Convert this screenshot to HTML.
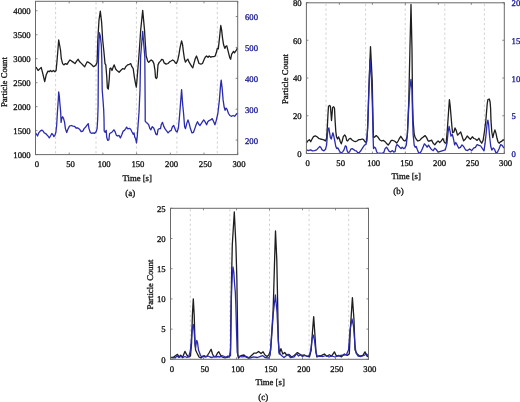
<!DOCTYPE html>
<html><head><meta charset="utf-8"><title>Particle Count plots</title>
<style>
html,body{margin:0;padding:0;background:#fff;}
body{width:520px;height:402px;overflow:hidden;}
svg{display:block;filter:blur(0.3px);font-family:"Liberation Serif","Times New Roman",serif;}
text{stroke-width:0.3px;paint-order:stroke;text-rendering:geometricPrecision;}
</style></head><body>
<svg width="520" height="402" viewBox="0 0 520 402">
<rect width="520" height="402" fill="#fff"/>
<line x1="55.6" y1="2.3" x2="55.6" y2="154.6" stroke="#c4c4c4" stroke-width="0.8" stroke-dasharray="2.2 2.6"/>
<line x1="96" y1="2.3" x2="96" y2="154.6" stroke="#c4c4c4" stroke-width="0.8" stroke-dasharray="2.2 2.6"/>
<line x1="136.4" y1="2.3" x2="136.4" y2="154.6" stroke="#c4c4c4" stroke-width="0.8" stroke-dasharray="2.2 2.6"/>
<line x1="176.9" y1="2.3" x2="176.9" y2="154.6" stroke="#c4c4c4" stroke-width="0.8" stroke-dasharray="2.2 2.6"/>
<line x1="217.3" y1="2.3" x2="217.3" y2="154.6" stroke="#c4c4c4" stroke-width="0.8" stroke-dasharray="2.2 2.6"/>
<polyline points="35.5,67.5 36.2,67.4 38.1,70.5 40,68.6 41.2,67.4 42.5,72.3 43.7,77.3 44.7,81.6 46.2,74.8 48,71.1 49.3,71.7 50.5,70.5 51.8,71.7 53.4,70.5 54.9,71.7 56.1,70.5 57.1,59.9 58,48.7 58.7,40 59.6,45 60.5,50 61.3,58.7 62.6,63.6 63.8,64.9 65.4,63.6 67,64.3 68.5,61.8 70,59.9 71.6,61.1 73.5,62.4 75,63.6 76.6,61.1 78.2,59.3 79.7,61.8 81.6,63.6 83.4,65.5 84.7,66.7 85.9,64.3 87.2,61.8 88.7,62.4 90.3,63.6 91.9,64.9 93.4,66.7 94.6,66.1 95.9,64.9 97.1,62.4 97.8,40 99,20 100.3,11.2 101.6,22 102.7,40 104,52.5 105,63.6 105.8,64.9 106.7,76 107.4,87.9 108.3,89.1 109.2,79.8 109.9,68.6 110.8,68 112,70.5 113.3,66.7 114.2,64.9 115.8,69.2 117.6,71.1 119.1,72.3 120.7,70.5 122.6,68.6 124.5,69.2 125.7,66.7 127.6,64.9 129.4,64.3 130.7,63.6 131.9,66.7 133.2,68.6 134.4,77.3 135.3,82.3 136.3,87.2 136.9,81 137.8,69.8 138.8,57.4 139.7,44.8 140.7,29.9 142.7,10.4 144.5,29.9 145.4,44.8 146.2,56 147.7,61.1 148.7,62.4 149.9,61.1 151.2,59.9 152.7,61.1 153.9,63.6 154.9,69.8 155.5,77.3 156.4,78.5 157.1,77.3 158,64.9 159.2,62.4 160.5,61.1 161.7,59.3 163,59.8 164.2,62.9 166.1,64.1 168,63.5 169.8,61.6 171.1,61 172.7,60 174.2,61 175.4,62.9 176.4,63.5 177.7,60.4 178.9,54.8 180.1,47.3 181.6,40.9 182.6,44.8 183.5,52.3 184.4,58.5 185.4,62.2 186.6,60.4 187.8,59.1 189.1,62.2 190.3,64.1 191.8,66.6 192.8,67.8 194.1,62.9 195.3,58.5 196.5,56 197.8,59.8 199,63.5 200.9,64.1 202.5,63.5 204,59.8 205.2,57.3 206.5,56 208,57.3 209.2,56 210.8,57.3 212.1,56.6 213.9,56.6 215.2,56 216.4,52.3 217.3,48.4 218.3,48.9 219.3,39.9 220.3,30 220.8,25.5 221.6,29.9 222.6,38.6 223.6,44.8 224.8,48.4 225.8,46.4 226.8,45.9 227.8,49.9 228.8,53.9 229.8,57.8 230.6,59.3 231.6,54.4 232.5,52.9 233.5,51.4 234.5,52.9 235.5,51.4 236.5,49.9 237.6,47.9" fill="none" stroke="#1e1e1e" stroke-width="1.3" stroke-linejoin="round"/>
<polyline points="35.5,133 36,133.5 37.5,136 38.7,132.9 40.2,131.1 41.8,130.1 43.1,131.1 44.3,132.9 45.6,133.5 46.8,134.8 48,136 49.3,137.9 50.5,136 51.8,133.5 53,134.8 53.9,136.6 54.9,135.4 55.9,132.3 56.7,124.8 57.4,112.4 58.4,98 58.7,92 59.3,96 59.8,102.5 60.7,112.4 61.1,122.4 61.7,118.6 62.6,116.8 63.6,118.6 64.6,122.4 65.4,128.6 66.7,132.5 67.9,129.2 69.5,126.1 71.3,125.5 72.9,126.1 74.5,126.3 76,128 77.9,128 79.5,129.2 81.2,131.7 82.8,131.1 84.1,128.6 85.9,126.7 87.2,124.8 88.2,123.6 89,128.6 90.3,132.5 91.5,133.3 93.1,132.9 94.6,133.3 96.1,131.7 97.1,128.6 97.7,118.6 98.1,106.2 98.4,60 99.3,32.6 100.3,36 101.3,45 101.8,60 102.2,90 103,100 103.7,110 104,118.6 104.2,131.1 105.2,132.3 106.2,130.4 106.7,137.3 107.7,140.4 108.9,139.8 109.6,133.5 110.8,132.9 112.4,131.7 113.9,129.8 115.1,131.7 116.4,135.4 117.6,136 118.9,135.4 120.4,137.9 122,134.2 123.2,131.1 124.5,130.4 125.7,128.6 126.6,127.1 127.8,128.8 129.4,128.3 130.7,129.2 131.9,131.7 133.2,134.2 134,132.9 134.8,137.3 135.6,138.5 136.5,142.9 137.3,136 138.1,124.8 139,112.4 140,90 140.6,56.7 142.7,31.3 144.8,56.7 145.2,110 145.2,121.1 146.2,122.4 147.7,123.6 148.7,124.8 149.9,128.6 150.9,129.8 152.2,126.7 153.7,128 154.9,131.1 155.9,134.2 157.1,134.8 158,129.8 159.2,128.6 160.5,128.6 161.2,124.8 162.5,122.4 163.7,126.1 165.2,129.2 166.8,131.1 168.1,132.9 169.7,131.1 171.2,130.4 172.4,126.7 173.7,125.5 174.9,128.6 175.9,131.1 177.1,132 178.4,128 179.3,118.6 180.1,108.7 181.1,96 181.6,89.6 182.6,103.7 183.6,113.7 184.6,126.7 185.5,128.6 186.7,123.6 188,119.9 189.2,123.6 190.4,128.6 192,132.9 193.5,132.3 194.8,128.6 196.3,124.2 197.5,121.7 198.8,124.2 200,125.5 201.2,123.6 202.5,121.7 203.7,119.9 205,121.7 206.6,124.8 207.8,121.7 209.1,120.5 210.7,119.9 212.2,118.6 213.7,121.7 214.9,124.8 216.1,121.1 217.4,115.5 217.9,113.3 219.4,99.9 220.6,84.9 221.2,80.1 222.1,87.9 223.1,99.9 224.2,107.3 225.1,110.3 226.1,108.1 227.2,109.6 228.4,113.3 229.9,115.5 231.6,116.3 233.1,115.5 234.6,116.3 235.8,114.8 237.6,113" fill="none" stroke="#2a2aae" stroke-width="1.3" stroke-linejoin="round"/>
<rect x="35.5" y="1.3" width="202.2" height="153.3" fill="none" stroke="#6a6a6a" stroke-width="1"/>
<line x1="35.5" y1="154.6" x2="35.5" y2="152.6" stroke="#6a6a6a" stroke-width="0.8"/>
<line x1="35.5" y1="1.3" x2="35.5" y2="3.3" stroke="#6a6a6a" stroke-width="0.8"/>
<text x="36.8" y="167.3" text-anchor="middle" font-size="8.7" fill="#111" stroke="#111">0</text>
<line x1="69.2" y1="154.6" x2="69.2" y2="152.6" stroke="#6a6a6a" stroke-width="0.8"/>
<line x1="69.2" y1="1.3" x2="69.2" y2="3.3" stroke="#6a6a6a" stroke-width="0.8"/>
<text x="70.5" y="167.3" text-anchor="middle" font-size="8.7" fill="#111" stroke="#111">50</text>
<line x1="102.9" y1="154.6" x2="102.9" y2="152.6" stroke="#6a6a6a" stroke-width="0.8"/>
<line x1="102.9" y1="1.3" x2="102.9" y2="3.3" stroke="#6a6a6a" stroke-width="0.8"/>
<text x="104.2" y="167.3" text-anchor="middle" font-size="8.7" fill="#111" stroke="#111">100</text>
<line x1="136.6" y1="154.6" x2="136.6" y2="152.6" stroke="#6a6a6a" stroke-width="0.8"/>
<line x1="136.6" y1="1.3" x2="136.6" y2="3.3" stroke="#6a6a6a" stroke-width="0.8"/>
<text x="137.9" y="167.3" text-anchor="middle" font-size="8.7" fill="#111" stroke="#111">150</text>
<line x1="170.3" y1="154.6" x2="170.3" y2="152.6" stroke="#6a6a6a" stroke-width="0.8"/>
<line x1="170.3" y1="1.3" x2="170.3" y2="3.3" stroke="#6a6a6a" stroke-width="0.8"/>
<text x="171.6" y="167.3" text-anchor="middle" font-size="8.7" fill="#111" stroke="#111">200</text>
<line x1="204" y1="154.6" x2="204" y2="152.6" stroke="#6a6a6a" stroke-width="0.8"/>
<line x1="204" y1="1.3" x2="204" y2="3.3" stroke="#6a6a6a" stroke-width="0.8"/>
<text x="205.3" y="167.3" text-anchor="middle" font-size="8.7" fill="#111" stroke="#111">250</text>
<line x1="237.7" y1="154.6" x2="237.7" y2="152.6" stroke="#6a6a6a" stroke-width="0.8"/>
<line x1="237.7" y1="1.3" x2="237.7" y2="3.3" stroke="#6a6a6a" stroke-width="0.8"/>
<text x="239" y="167.3" text-anchor="middle" font-size="8.7" fill="#111" stroke="#111">300</text>
<line x1="35.5" y1="154.6" x2="37.5" y2="154.6" stroke="#6a6a6a" stroke-width="0.8"/>
<text x="30.7" y="157.9" text-anchor="end" font-size="8.7" fill="#111" stroke="#111">1000</text>
<line x1="35.5" y1="130.63" x2="37.5" y2="130.63" stroke="#6a6a6a" stroke-width="0.8"/>
<text x="30.7" y="133.93" text-anchor="end" font-size="8.7" fill="#111" stroke="#111">1500</text>
<line x1="35.5" y1="106.66" x2="37.5" y2="106.66" stroke="#6a6a6a" stroke-width="0.8"/>
<text x="30.7" y="109.96" text-anchor="end" font-size="8.7" fill="#111" stroke="#111">2000</text>
<line x1="35.5" y1="82.69" x2="37.5" y2="82.69" stroke="#6a6a6a" stroke-width="0.8"/>
<text x="30.7" y="85.99" text-anchor="end" font-size="8.7" fill="#111" stroke="#111">2500</text>
<line x1="35.5" y1="58.72" x2="37.5" y2="58.72" stroke="#6a6a6a" stroke-width="0.8"/>
<text x="30.7" y="62.02" text-anchor="end" font-size="8.7" fill="#111" stroke="#111">3000</text>
<line x1="35.5" y1="34.75" x2="37.5" y2="34.75" stroke="#6a6a6a" stroke-width="0.8"/>
<text x="30.7" y="38.05" text-anchor="end" font-size="8.7" fill="#111" stroke="#111">3500</text>
<line x1="35.5" y1="10.78" x2="37.5" y2="10.78" stroke="#6a6a6a" stroke-width="0.8"/>
<text x="30.7" y="14.08" text-anchor="end" font-size="8.7" fill="#111" stroke="#111">4000</text>
<line x1="237.7" y1="140.1" x2="235.7" y2="140.1" stroke="#6a6a6a" stroke-width="0.8"/>
<text x="245" y="143.8" text-anchor="start" font-size="8.7" fill="#181890" stroke="#181890">200</text>
<line x1="237.7" y1="109.2" x2="235.7" y2="109.2" stroke="#6a6a6a" stroke-width="0.8"/>
<text x="245" y="112.9" text-anchor="start" font-size="8.7" fill="#181890" stroke="#181890">300</text>
<line x1="237.7" y1="78.3" x2="235.7" y2="78.3" stroke="#6a6a6a" stroke-width="0.8"/>
<text x="245" y="82" text-anchor="start" font-size="8.7" fill="#181890" stroke="#181890">400</text>
<line x1="237.7" y1="47.4" x2="235.7" y2="47.4" stroke="#6a6a6a" stroke-width="0.8"/>
<text x="245" y="51.1" text-anchor="start" font-size="8.7" fill="#181890" stroke="#181890">500</text>
<line x1="237.7" y1="16.5" x2="235.7" y2="16.5" stroke="#6a6a6a" stroke-width="0.8"/>
<text x="245" y="20.2" text-anchor="start" font-size="8.7" fill="#181890" stroke="#181890">600</text>
<text x="137.2" y="180.5" text-anchor="middle" font-size="8.7" fill="#111" stroke="#111">Time [s]</text>
<text x="130.2" y="196.2" text-anchor="middle" font-size="9" fill="#111" stroke="#111">(a)</text>
<text x="0" y="0" text-anchor="middle" font-size="8.7" fill="#111" stroke="#111" transform="translate(7 82.1) rotate(-90)">Particle Count</text>
<line x1="326" y1="3.8" x2="326" y2="153.5" stroke="#c4c4c4" stroke-width="0.8" stroke-dasharray="2.2 2.6"/>
<line x1="365.6" y1="3.8" x2="365.6" y2="153.5" stroke="#c4c4c4" stroke-width="0.8" stroke-dasharray="2.2 2.6"/>
<line x1="405.2" y1="3.8" x2="405.2" y2="153.5" stroke="#c4c4c4" stroke-width="0.8" stroke-dasharray="2.2 2.6"/>
<line x1="444.8" y1="3.8" x2="444.8" y2="153.5" stroke="#c4c4c4" stroke-width="0.8" stroke-dasharray="2.2 2.6"/>
<line x1="484.4" y1="3.8" x2="484.4" y2="153.5" stroke="#c4c4c4" stroke-width="0.8" stroke-dasharray="2.2 2.6"/>
<polyline points="306.4,143.1 307.7,141 309.4,139.7 310.7,141.7 312.1,139 313.5,136.7 315.3,135.8 317,136.7 318.7,138.3 320.3,139 322.1,139.4 323.9,139.9 325.5,141 326.6,138.3 327.3,127.4 328,113.7 328.5,106.2 329.6,105.5 330.4,106.2 331,113.7 331.5,120.5 332.1,113.7 332.6,107.5 333.7,106.8 334.5,108.2 335.1,120.5 335.8,131.5 336.5,136.9 337.6,139 338.5,136.9 339.5,139 340.3,141.7 341.3,143.8 342.2,141 343.3,136.7 344.7,134.9 345.8,136.7 346.7,140.4 347.7,141 349,139 350.4,138.3 351.8,139.7 353.6,141 355.3,141.7 357,141 358.6,139.7 360.4,139.7 362.2,139 363.6,139.7 364.9,141.7 366.3,142.4 367.2,135.6 367.9,120.5 368.8,90 370.5,46.6 372.2,80 373,120 373.5,137.6 374.8,136.9 376.2,135.6 377.8,136.9 379.6,139.7 381.7,141 383.3,140.4 385.1,141.7 386.9,143.8 388.2,145.1 389.6,143.1 391.3,140.4 392.6,140.4 394.3,141 395.4,141.7 396.7,143.1 398.1,141 399.5,138.3 400.8,136.3 402.2,138.3 403.6,140.4 404.9,141 406.3,139.7 407.3,135.6 408,120.5 408.8,100 409.9,50 411,4.4 412,50 412.5,100 413.1,120.5 414.2,134.2 415.2,137.6 416.6,139.7 417.9,141 419.7,140.4 421.6,138.3 423.4,136.9 425.2,135.6 426.6,137.6 428.2,141 429.8,141 431.6,140.1 433.2,143.3 434.8,144.9 436.5,142.5 438.1,140.9 439.7,142.5 441.3,140.9 442.9,138.5 444.5,142.5 446.2,143.3 447.4,128.8 448.6,111 449.4,99.7 450.2,106.2 451,115.8 451.8,125.5 452.6,132.8 453.9,132 455,128 456.2,130.4 457.5,135.2 459.1,133.6 460.7,132 462,136 463.6,140.9 465.2,139.3 467.2,136 468.8,137.7 470.4,139.3 472.3,136.8 473.9,138.5 475.4,139 477.1,140.4 478.9,138.3 480.3,141.1 481.7,143.2 483.1,140.4 484.4,132 485.8,120.9 487.2,104 487.9,99.5 489.3,99 490.1,102 490.6,108.4 491,120.9 491.8,132 492.8,137.6 493.8,133.4 494.9,129.9 496,133.4 497,138.3 498,141.8 499.1,143.2 500.5,141.8 501.9,141.1 503.2,139.7 504.3,140.4" fill="none" stroke="#1e1e1e" stroke-width="1.3" stroke-linejoin="round"/>
<polyline points="306.4,149.9 308.4,150.6 310.5,149.9 312.5,150.9 314.6,150.6 316.6,149.9 318.4,147.9 319.8,146.5 320.7,147.2 322.1,149.9 323.9,150.9 325.5,149.2 326.6,145.1 327.3,135.6 328,128.7 328.9,128 329.6,132.8 330.4,137.6 331.3,139 332.1,135.6 332.9,132.8 333.7,135.6 334.8,141 335.8,146.5 336.7,148.6 337.8,147.9 338.9,149.9 339.9,151.7 341.3,152.7 342.6,152 344,149.9 345.4,145.8 346.3,146.5 347.1,150.6 348.1,152.7 349.5,152 350.8,149.2 352.2,148.6 353.6,149.5 354.9,150.6 356.3,150.9 357.7,152.7 359,152.7 360.4,151.3 361.8,149.2 363.1,147.2 364.5,145.1 365.9,144.5 366.8,141 367.7,127.4 368.6,100 370,59.4 371.5,80 372.5,110 373.2,140 373.5,148.6 374.6,147.2 375.5,147.9 376.5,151.3 377.6,153.4 379.6,153.1 381.7,153.4 383.7,152.7 385.1,148.6 386.5,147.2 387.8,149.2 389.2,151.3 390.6,152 392.4,150.6 393.7,152 395.1,151.7 396,146.5 397,144.5 398.4,145.8 399.7,147.2 401.1,148.6 402.2,147.2 403.6,148.6 404.9,147.9 406.3,145.1 407.4,134.2 408.4,113.7 409.7,90 411,79.4 412,90 412.5,113.7 413.1,134.2 414.2,145.1 415.2,147.2 416.2,146.5 417.2,149.2 418.6,152.7 420,153.1 421.6,150.6 423,147.2 424.4,143.8 425.7,145.1 427.1,147.2 428.5,145.1 429.8,147.2 431.2,149.2 432.2,150 433.2,150.6 434.8,148.2 436.5,149.8 438.1,152.2 440.5,151.4 442.9,150.6 445.3,149.8 447,143.3 448.1,132 449.1,126.3 450.2,132 451,136 452.3,134.4 453.4,138.5 454.6,144.9 455.8,142.5 457.1,144.9 458.8,148.2 460.4,147.4 462,144.9 463.6,146.5 465.5,149.8 467.5,150.6 469.6,149 471.7,150.6 473.6,148.2 475.4,147.4 477.1,144.6 478.9,145.3 480.7,146 482.4,148.7 484,150.8 485.1,143.2 486.3,132 487.2,122.3 487.9,120.2 488.6,124.4 489.6,136.2 490.7,146 491.8,150.1 493.2,148 494.6,149.4 496,152.9 497.4,152.2 499.1,148.7 500.7,144.6 502.1,145.3 503.5,147.4 504.3,148" fill="none" stroke="#2a2aae" stroke-width="1.3" stroke-linejoin="round"/>
<rect x="306.4" y="2.8" width="197.9" height="150.7" fill="none" stroke="#6a6a6a" stroke-width="1"/>
<line x1="306.4" y1="153.5" x2="306.4" y2="151.5" stroke="#6a6a6a" stroke-width="0.8"/>
<line x1="306.4" y1="2.8" x2="306.4" y2="4.8" stroke="#6a6a6a" stroke-width="0.8"/>
<text x="307.7" y="165.9" text-anchor="middle" font-size="8.7" fill="#111" stroke="#111">0</text>
<line x1="339.38" y1="153.5" x2="339.38" y2="151.5" stroke="#6a6a6a" stroke-width="0.8"/>
<line x1="339.38" y1="2.8" x2="339.38" y2="4.8" stroke="#6a6a6a" stroke-width="0.8"/>
<text x="340.68" y="165.9" text-anchor="middle" font-size="8.7" fill="#111" stroke="#111">50</text>
<line x1="372.37" y1="153.5" x2="372.37" y2="151.5" stroke="#6a6a6a" stroke-width="0.8"/>
<line x1="372.37" y1="2.8" x2="372.37" y2="4.8" stroke="#6a6a6a" stroke-width="0.8"/>
<text x="373.67" y="165.9" text-anchor="middle" font-size="8.7" fill="#111" stroke="#111">100</text>
<line x1="405.35" y1="153.5" x2="405.35" y2="151.5" stroke="#6a6a6a" stroke-width="0.8"/>
<line x1="405.35" y1="2.8" x2="405.35" y2="4.8" stroke="#6a6a6a" stroke-width="0.8"/>
<text x="406.65" y="165.9" text-anchor="middle" font-size="8.7" fill="#111" stroke="#111">150</text>
<line x1="438.33" y1="153.5" x2="438.33" y2="151.5" stroke="#6a6a6a" stroke-width="0.8"/>
<line x1="438.33" y1="2.8" x2="438.33" y2="4.8" stroke="#6a6a6a" stroke-width="0.8"/>
<text x="439.63" y="165.9" text-anchor="middle" font-size="8.7" fill="#111" stroke="#111">200</text>
<line x1="471.32" y1="153.5" x2="471.32" y2="151.5" stroke="#6a6a6a" stroke-width="0.8"/>
<line x1="471.32" y1="2.8" x2="471.32" y2="4.8" stroke="#6a6a6a" stroke-width="0.8"/>
<text x="472.62" y="165.9" text-anchor="middle" font-size="8.7" fill="#111" stroke="#111">250</text>
<line x1="504.3" y1="153.5" x2="504.3" y2="151.5" stroke="#6a6a6a" stroke-width="0.8"/>
<line x1="504.3" y1="2.8" x2="504.3" y2="4.8" stroke="#6a6a6a" stroke-width="0.8"/>
<text x="505.6" y="165.9" text-anchor="middle" font-size="8.7" fill="#111" stroke="#111">300</text>
<line x1="306.4" y1="153.5" x2="308.4" y2="153.5" stroke="#6a6a6a" stroke-width="0.8"/>
<text x="301.6" y="156.8" text-anchor="end" font-size="8.7" fill="#111" stroke="#111">0</text>
<line x1="306.4" y1="115.75" x2="308.4" y2="115.75" stroke="#6a6a6a" stroke-width="0.8"/>
<text x="301.6" y="119.05" text-anchor="end" font-size="8.7" fill="#111" stroke="#111">20</text>
<line x1="306.4" y1="78" x2="308.4" y2="78" stroke="#6a6a6a" stroke-width="0.8"/>
<text x="301.6" y="81.3" text-anchor="end" font-size="8.7" fill="#111" stroke="#111">40</text>
<line x1="306.4" y1="40.25" x2="308.4" y2="40.25" stroke="#6a6a6a" stroke-width="0.8"/>
<text x="301.6" y="43.55" text-anchor="end" font-size="8.7" fill="#111" stroke="#111">60</text>
<line x1="306.4" y1="2.5" x2="308.4" y2="2.5" stroke="#6a6a6a" stroke-width="0.8"/>
<text x="301.6" y="5.8" text-anchor="end" font-size="8.7" fill="#111" stroke="#111">80</text>
<line x1="504.3" y1="153.5" x2="502.3" y2="153.5" stroke="#6a6a6a" stroke-width="0.8"/>
<text x="511.6" y="157.2" text-anchor="start" font-size="8.7" fill="#181890" stroke="#181890">0</text>
<line x1="504.3" y1="115.75" x2="502.3" y2="115.75" stroke="#6a6a6a" stroke-width="0.8"/>
<text x="511.6" y="119.45" text-anchor="start" font-size="8.7" fill="#181890" stroke="#181890">5</text>
<line x1="504.3" y1="78" x2="502.3" y2="78" stroke="#6a6a6a" stroke-width="0.8"/>
<text x="511.6" y="81.7" text-anchor="start" font-size="8.7" fill="#181890" stroke="#181890">10</text>
<line x1="504.3" y1="40.25" x2="502.3" y2="40.25" stroke="#6a6a6a" stroke-width="0.8"/>
<text x="511.6" y="43.95" text-anchor="start" font-size="8.7" fill="#181890" stroke="#181890">15</text>
<line x1="504.3" y1="2.5" x2="502.3" y2="2.5" stroke="#6a6a6a" stroke-width="0.8"/>
<text x="511.6" y="6.2" text-anchor="start" font-size="8.7" fill="#181890" stroke="#181890">20</text>
<text x="406.2" y="178.7" text-anchor="middle" font-size="8.7" fill="#111" stroke="#111">Time [s]</text>
<text x="398.6" y="194.4" text-anchor="middle" font-size="9" fill="#111" stroke="#111">(b)</text>
<text x="0" y="0" text-anchor="middle" font-size="8.7" fill="#111" stroke="#111" transform="translate(288.2 79) rotate(-90)">Particle Count</text>
<line x1="190.3" y1="209.3" x2="190.3" y2="359.3" stroke="#c4c4c4" stroke-width="0.8" stroke-dasharray="2.2 2.6"/>
<line x1="229.9" y1="209.3" x2="229.9" y2="359.3" stroke="#c4c4c4" stroke-width="0.8" stroke-dasharray="2.2 2.6"/>
<line x1="269.5" y1="209.3" x2="269.5" y2="359.3" stroke="#c4c4c4" stroke-width="0.8" stroke-dasharray="2.2 2.6"/>
<line x1="309.1" y1="209.3" x2="309.1" y2="359.3" stroke="#c4c4c4" stroke-width="0.8" stroke-dasharray="2.2 2.6"/>
<line x1="348.7" y1="209.3" x2="348.7" y2="359.3" stroke="#c4c4c4" stroke-width="0.8" stroke-dasharray="2.2 2.6"/>
<polyline points="170.5,357 173,358 175,356 177.5,354.4 179,357 180.7,355.2 182.5,357.5 184.9,351.4 187,355.2 189,357 190.5,356 191.6,343 192.4,315 193.3,298.8 194.2,315 195,343 195.6,350 197,353 199,357 201,358 203,356 205,357 207,356 209,353 211.1,349.3 212.5,354 214,357 216,356 217.5,353 218.8,351.8 220.5,355 222,357 225,358 228,356 229.5,357 230.5,350 231.5,280.5 232.3,244.8 234.3,212 235.9,244.8 236.9,280.5 237.9,355.5 238.5,358 240.9,355.6 244,355 246,357 248.5,358.2 251,356 254.2,353.1 256.5,353 258.6,351.4 261,353.5 263.1,351.8 265,355 267,356.5 268.8,355 270.7,350 272.8,320 273.6,295 274.6,260 275.5,231 276.8,260 277.5,295 278.3,340 279.3,354 280.9,348.6 282.8,354 284.7,352.5 286.6,355 289,354.5 291.6,357 294.2,355.5 296.7,353.1 297.4,352.6 299.5,354 301.7,355.4 304.5,355 306.7,356.2 309.5,356.9 311.2,350 312.6,330 313.7,316.6 314.8,333 316,352 316.8,356.9 318.8,356 321.6,355.4 324.4,354 326.6,356.2 329.4,354.7 331.6,356.2 334.4,351.9 336.5,356.2 338.7,355.4 341.5,356.9 344.4,354 347.2,355.4 349.3,354 350.3,330 352.4,297.6 354,320 355,350 357.2,354 360,356.2 362.9,355.4 365,351.9 367.1,356.2 368.5,357" fill="none" stroke="#1e1e1e" stroke-width="1.3" stroke-linejoin="round"/>
<polyline points="170.5,358 173,357 175,358 177,356 179,357.5 181,356.5 183,357.5 185,356.5 187,357.5 189,356 190.5,350 191.7,335 192.6,326 193.3,324.5 194.2,332 195,344 195.6,348 196.2,343 196.8,340.5 197.6,343 198.5,350 200,354 200.4,355.6 202,357 204.3,355.6 206,357 208,356 210,357 212,357.5 214,356.5 216,357 218,356.5 220,357 222,355.6 224.5,356.5 226.5,357.5 228.5,357 230.5,355.5 231.3,300 231.8,285 232.5,272 233,267 233.8,272 234.5,283 235.3,292 235.8,304 236.5,330 237.2,352 237.9,355.5 239.6,356.3 242.2,356.9 246,356.3 249.8,358.2 253.6,356.9 257.4,357.5 260.6,356.3 262.5,355.6 265,357.5 268.8,358.2 270.2,355 272.5,320 275.4,295 277,312 278.3,340 279,352.5 281.5,355.6 284,357.5 287.8,354.4 290.4,357.5 294.2,356.9 296.7,353.7 298.5,356 300.5,355 302.5,356.5 305,355.5 307.5,356.5 309.5,355 310.8,350 312.2,338 313.3,335.2 314.5,340 315.9,352 317.2,356.5 320,356 323,356.5 326,355.5 329,357 332,356 335,357 338,356 341,355.5 344,355 346.5,354.5 348.5,350 350,330 352,319 353.5,326 355,345 356,353 358,356 361,356.5 364,355.5 366.5,354 368.5,356" fill="none" stroke="#2a2aae" stroke-width="1.3" stroke-linejoin="round"/>
<rect x="170.5" y="208.3" width="198" height="151" fill="none" stroke="#6a6a6a" stroke-width="1"/>
<line x1="170.5" y1="359.3" x2="170.5" y2="357.3" stroke="#6a6a6a" stroke-width="0.8"/>
<line x1="170.5" y1="208.3" x2="170.5" y2="210.3" stroke="#6a6a6a" stroke-width="0.8"/>
<text x="171.8" y="371.6" text-anchor="middle" font-size="8.7" fill="#111" stroke="#111">0</text>
<line x1="203.5" y1="359.3" x2="203.5" y2="357.3" stroke="#6a6a6a" stroke-width="0.8"/>
<line x1="203.5" y1="208.3" x2="203.5" y2="210.3" stroke="#6a6a6a" stroke-width="0.8"/>
<text x="204.8" y="371.6" text-anchor="middle" font-size="8.7" fill="#111" stroke="#111">50</text>
<line x1="236.5" y1="359.3" x2="236.5" y2="357.3" stroke="#6a6a6a" stroke-width="0.8"/>
<line x1="236.5" y1="208.3" x2="236.5" y2="210.3" stroke="#6a6a6a" stroke-width="0.8"/>
<text x="237.8" y="371.6" text-anchor="middle" font-size="8.7" fill="#111" stroke="#111">100</text>
<line x1="269.5" y1="359.3" x2="269.5" y2="357.3" stroke="#6a6a6a" stroke-width="0.8"/>
<line x1="269.5" y1="208.3" x2="269.5" y2="210.3" stroke="#6a6a6a" stroke-width="0.8"/>
<text x="270.8" y="371.6" text-anchor="middle" font-size="8.7" fill="#111" stroke="#111">150</text>
<line x1="302.5" y1="359.3" x2="302.5" y2="357.3" stroke="#6a6a6a" stroke-width="0.8"/>
<line x1="302.5" y1="208.3" x2="302.5" y2="210.3" stroke="#6a6a6a" stroke-width="0.8"/>
<text x="303.8" y="371.6" text-anchor="middle" font-size="8.7" fill="#111" stroke="#111">200</text>
<line x1="335.5" y1="359.3" x2="335.5" y2="357.3" stroke="#6a6a6a" stroke-width="0.8"/>
<line x1="335.5" y1="208.3" x2="335.5" y2="210.3" stroke="#6a6a6a" stroke-width="0.8"/>
<text x="336.8" y="371.6" text-anchor="middle" font-size="8.7" fill="#111" stroke="#111">250</text>
<line x1="368.5" y1="359.3" x2="368.5" y2="357.3" stroke="#6a6a6a" stroke-width="0.8"/>
<line x1="368.5" y1="208.3" x2="368.5" y2="210.3" stroke="#6a6a6a" stroke-width="0.8"/>
<text x="369.8" y="371.6" text-anchor="middle" font-size="8.7" fill="#111" stroke="#111">300</text>
<line x1="170.5" y1="359.3" x2="172.5" y2="359.3" stroke="#6a6a6a" stroke-width="0.8"/>
<line x1="368.5" y1="359.3" x2="366.5" y2="359.3" stroke="#6a6a6a" stroke-width="0.8"/>
<text x="165.7" y="362.6" text-anchor="end" font-size="8.7" fill="#111" stroke="#111">0</text>
<line x1="170.5" y1="329.1" x2="172.5" y2="329.1" stroke="#6a6a6a" stroke-width="0.8"/>
<line x1="368.5" y1="329.1" x2="366.5" y2="329.1" stroke="#6a6a6a" stroke-width="0.8"/>
<text x="165.7" y="332.4" text-anchor="end" font-size="8.7" fill="#111" stroke="#111">5</text>
<line x1="170.5" y1="298.9" x2="172.5" y2="298.9" stroke="#6a6a6a" stroke-width="0.8"/>
<line x1="368.5" y1="298.9" x2="366.5" y2="298.9" stroke="#6a6a6a" stroke-width="0.8"/>
<text x="165.7" y="302.2" text-anchor="end" font-size="8.7" fill="#111" stroke="#111">10</text>
<line x1="170.5" y1="268.7" x2="172.5" y2="268.7" stroke="#6a6a6a" stroke-width="0.8"/>
<line x1="368.5" y1="268.7" x2="366.5" y2="268.7" stroke="#6a6a6a" stroke-width="0.8"/>
<text x="165.7" y="272" text-anchor="end" font-size="8.7" fill="#111" stroke="#111">15</text>
<line x1="170.5" y1="238.5" x2="172.5" y2="238.5" stroke="#6a6a6a" stroke-width="0.8"/>
<line x1="368.5" y1="238.5" x2="366.5" y2="238.5" stroke="#6a6a6a" stroke-width="0.8"/>
<text x="165.7" y="241.8" text-anchor="end" font-size="8.7" fill="#111" stroke="#111">20</text>
<line x1="170.5" y1="208.3" x2="172.5" y2="208.3" stroke="#6a6a6a" stroke-width="0.8"/>
<line x1="368.5" y1="208.3" x2="366.5" y2="208.3" stroke="#6a6a6a" stroke-width="0.8"/>
<text x="165.7" y="211.6" text-anchor="end" font-size="8.7" fill="#111" stroke="#111">25</text>
<text x="270.1" y="384.5" text-anchor="middle" font-size="8.7" fill="#111" stroke="#111">Time [s]</text>
<text x="263.3" y="400" text-anchor="middle" font-size="9" fill="#111" stroke="#111">(c)</text>
<text x="0" y="0" text-anchor="middle" font-size="8.7" fill="#111" stroke="#111" transform="translate(152.7 284.6) rotate(-90)">Particle Count</text>
</svg>
</body></html>
